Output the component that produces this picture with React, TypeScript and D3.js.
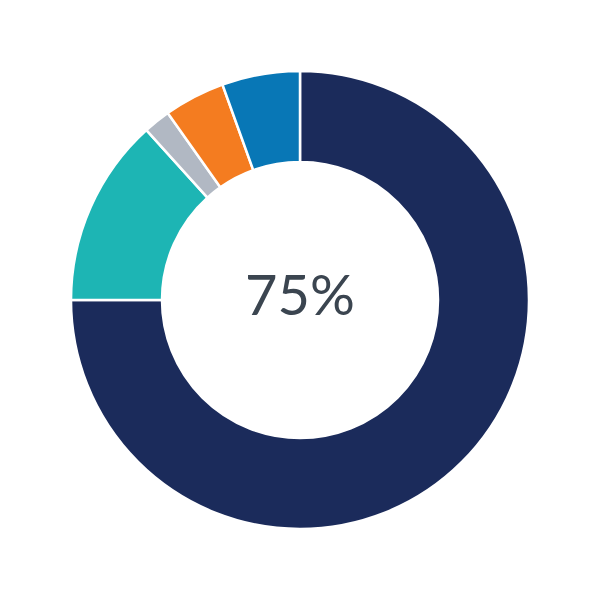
import { useRef, useEffect } from 'react';
import * as d3 from 'd3';

const labels = ['Main', 'Teal', 'Gray', 'Orange', 'Blue'];
const values = [75, 13.3, 1.9, 4.3, 5.5];
const colors = ['#1b2b5b', '#1db5b4', '#b1b8c3', '#f47c20', '#0877b6'];
const centerLabel = '75%';

const App: React.FC = () => {
  const ref = useRef<SVGSVGElement>(null);

  useEffect(() => {
    if (!ref.current) return;
    const svg = d3.select(ref.current);
    svg.selectAll('*').remove();

    const width = 600;
    const height = 600;
    const outer = 229;
    const inner = 138;

    const g = svg.append('g').attr('transform', `translate(${width / 2 - 8},${height / 2 - 8})`);

    const pie = d3.pie<number>().sort(null).value((d) => d);
    const arc = d3.arc<d3.PieArcDatum<number>>().innerRadius(inner).outerRadius(outer);

    g.selectAll('path')
      .data(pie(values))
      .enter()
      .append('path')
      .attr('d', arc)
      .attr('fill', (_, i) => colors[i])
      .attr('stroke', '#fff')
      .attr('stroke-width', 2.5)
      .append('title')
      .text((_, i) => labels[i]);

    g.append('text')
      .attr('text-anchor', 'middle')
      .attr('dy', '0.27em')
      .style('font-family', 'Lato, sans-serif')
      .style('font-size', '56px')
      .style('fill', '#3b4550')
      .text(centerLabel);
  }, []);

  return <svg ref={ref} width={584} height={584} style={{ display: 'block' }} />;
};

export default App;
